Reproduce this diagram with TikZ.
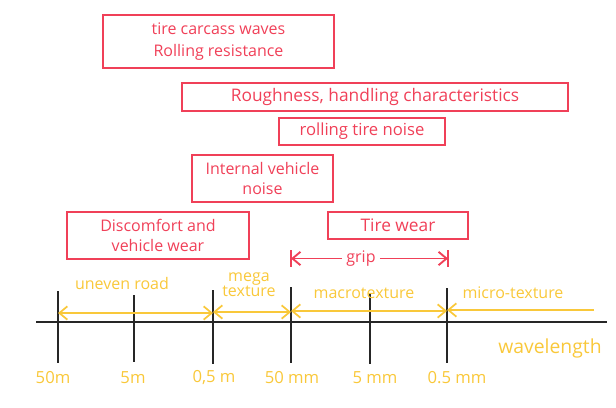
\documentclass[tikz,border=0pt]{standalone}
\usepackage{fontspec}
\setmainfont{Open Sans}
\usetikzlibrary{arrows.meta}
\definecolor{rd}{RGB}{240,64,88}
\definecolor{yl}{RGB}{249,200,58}
\tikzset{
  ytip/.tip={Straight Barb[length=6pt,width=10pt]},
  box/.style={draw=rd, line width=1pt, text=rd, align=center, inner sep=0pt, font=\fontsize{12}{16}\selectfont},
  axisline/.style={draw=black!85, line width=1.3pt},
  tick/.style={draw=black!85, line width=1.2pt},
  yarrow/.style={draw=yl, line width=1.3pt},
  rarrow/.style={draw=rd, line width=1.4pt},
  ylab/.style={text=yl, font=\fontsize{12}{11}\selectfont, align=center, inner sep=1pt},
  tlab/.style={text=yl, font=\fontsize{12.5}{14}\selectfont, inner sep=0pt},
}
\begin{document}
\begin{tikzpicture}[x=0.75pt,y=-0.75pt]
\useasboundingbox (0,0) rectangle (616,407);
% boxes
\node[box, minimum width=231*0.75pt, minimum height=53*0.75pt] (b1) at (218.5,41.5) {tire carcass waves\\Rolling resistance};
\node[box, minimum width=386*0.75pt, minimum height=28*0.75pt, font=\fontsize{13}{16}\selectfont] (b2) at (375,97) {Roughness, handling characteristics};
\node[box, minimum width=166*0.75pt, minimum height=27*0.75pt, font=\fontsize{12.5}{16}\selectfont] (b3) at (362,131.5) {rolling tire noise};
\node[box, minimum width=141*0.75pt, minimum height=47*0.75pt, font=\fontsize{12}{15}\selectfont] (b4) at (262.5,178.5) {Internal vehicle\\noise};
\node[box, minimum width=182*0.75pt, minimum height=47*0.75pt, font=\fontsize{12}{15}\selectfont] (b5) at (158,235.5) {Discomfort and\\vehicle wear};
\node[box, minimum width=140*0.75pt, minimum height=27*0.75pt, font=\fontsize{13}{16}\selectfont] (b6) at (398,225.5) {Tire wear};
% grip
\coordinate (gL) at (291,258.5);
\coordinate (gR) at (448,258.5);
\node[text=rd, font=\fontsize{12}{12}\selectfont, inner sep=3pt] (grip) at (361,259) {grip};
\draw[rarrow, -{ytip}] (grip.west |- gL) -- (gL);
\draw[rarrow, -{ytip}] (grip.east |- gR) -- (gR);
\draw[rarrow] (291,250) -- (291,267) (448,250) -- (448,267);
% axis
\coordinate (aL) at (36,322);
\coordinate (aR) at (607,322);
\draw[axisline] (aL) -- (aR);
\foreach \n/\x/\t/\b in {t1/58/291/363, t2/134/295/362, t3/213/290/364, t4/291/287/363, t5/370/293/364, t6/447/288/363}{
  \coordinate (\n top) at (\x,\t);
  \coordinate (\n bot) at (\x,\b);
  \draw[tick] (\n top) -- (\n bot);
}
% yellow arrows
\coordinate (y1) at (58,313); \coordinate (y2) at (213,313);
\coordinate (y3) at (213,312); \coordinate (y4) at (291,312);
\coordinate (y5) at (291,311); \coordinate (y6) at (447,311);
\coordinate (y7) at (594,310); \coordinate (y8) at (447,310);
\draw[yarrow, {ytip}-{ytip}] (y1) -- (y2);
\draw[yarrow, {ytip}-{ytip}] (y3) -- (y4);
\draw[yarrow, {ytip}-{ytip}] (y5) -- (y6);
\draw[yarrow, -{ytip}] (y7) -- (y8);
% region labels
\node[ylab] (l1) at (122,283) {uneven road};
\node[ylab] (l2) at (249,285) {mega\\texture};
\node[ylab] (l3) at (364,293) {macrotexture};
\node[ylab] (l4) at (513,293) {micro-texture};
\node[tlab, font=\fontsize{14.5}{16}\selectfont] (wl) at (550,348) {wavelength};
% tick labels
\node[tlab] (n1) at (53,378) {50m};
\node[tlab] (n2) at (133,378) {5m};
\node[tlab] (n3) at (214,378) {0,5 m};
\node[tlab] (n4) at (292,378) {50 mm};
\node[tlab] (n5) at (375,378) {5 mm};
\node[tlab] (n6) at (457,378) {0.5 mm};
\end{tikzpicture}
\end{document}
